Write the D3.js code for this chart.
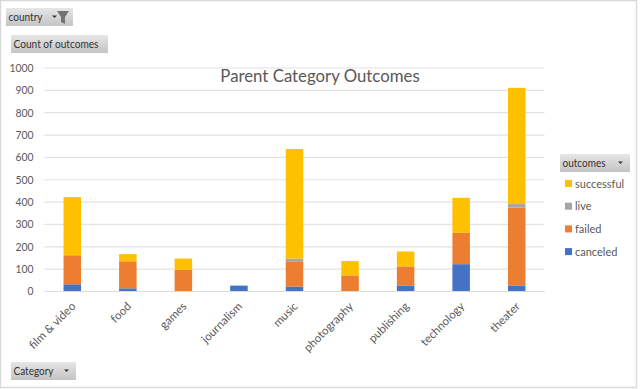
<!DOCTYPE html>
<html>
<head>
<meta charset="utf-8">
<script src="https://cdn.jsdelivr.net/npm/d3@7"></script>
<style>
html, body { margin: 0; padding: 0; background: #fff; }
svg { display: block; font-family: Lato, "Open Sans", sans-serif; }
</style>
</head>
<body>
<div id="chart-area"></div>
<script>
// values
var categories = ["film & video", "food", "games", "journalism", "music", "photography", "publishing", "technology", "theater"];
var outcomes = ["canceled", "failed", "live", "successful"];
var canceled = [30, 12, 0, 24, 20, 0, 25, 120, 25];
var failed = [130, 121, 95, 0, 113, 70, 85, 140, 348];
var live = [0, 0, 0, 0, 12, 0, 0, 0, 16];
var successful = [260, 32, 50, 0, 490, 64, 67, 157, 520];
var yTicks = [0, 100, 200, 300, 400, 500, 600, 700, 800, 900, 1000];
var colors = ["#4472c4", "#ed7d31", "#a5a5a5", "#ffc000"];
var legendOrder = ["successful", "live", "failed", "canceled"];

var width = 640;
var height = 389;

var rows = categories.map(function(c, i) {
	return { category: c, canceled: canceled[i], failed: failed[i], live: live[i], successful: successful[i] };
});

var svg = d3.select("#chart-area")
	.append("svg")
	.attr("width", width)
	.attr("height", height);

var defs = svg.append("defs");
var grad = defs.append("linearGradient")
	.attr("id", "btn")
	.attr("x1", 0).attr("x2", 0).attr("y1", 0).attr("y2", 1);
grad.append("stop").attr("offset", "0%").attr("stop-color", "#e6e6e6");
grad.append("stop").attr("offset", "100%").attr("stop-color", "#c4c4c4");

// outer frame of the chart
svg.append("rect")
	.attr("x", 0.5)
	.attr("y", 0.5)
	.attr("width", 636)
	.attr("height", 387)
	.attr("fill", "#fff")
	.attr("stroke", "#d9d9d9")
	.attr("stroke-width", 1.5);

var x = d3.scaleBand()
	.domain(categories)
	.range([44.5, 544.5]);

var y = d3.scaleLinear()
	.domain([0, 1000])
	.range([291, 67.5]);

var color = d3.scaleOrdinal()
	.domain(outcomes)
	.range(colors);

var leftAxis = d3.axisLeft(y)
	.tickValues(yTicks)
	.tickFormat(d3.format("d"))
	.tickSize(-500)
	.tickPadding(11);

var yAxis = svg.append("g")
	.attr("transform", "translate(44.5,0)")
	.call(leftAxis);
yAxis.select(".domain").remove();
yAxis.selectAll("line").attr("stroke", "#e2e2e2").attr("stroke-width", 1.2);
// squeeze the digits, Lato runs wider than the original font
yAxis.selectAll("text")
	.attr("fill", "#595959")
	.attr("font-size", "12px")
	.attr("font-family", "Lato, sans-serif")
	.attr("textLength", function(d) { return String(d).length * 6; })
	.attr("lengthAdjust", "spacingAndGlyphs");

var bottomAxis = d3.axisBottom(x).tickSize(0);
var xAxis = svg.append("g")
	.attr("transform", "translate(0,291)")
	.call(bottomAxis);
xAxis.select(".domain").attr("stroke", "#dcdcdc").attr("stroke-width", 1.2);
xAxis.selectAll("text")
	.attr("fill", "#595959")
	.attr("font-size", "11.5px")
	.attr("font-family", "Lato, sans-serif")
	.attr("text-anchor", "end")
	.attr("x", 0)
	.attr("y", 0)
	.attr("dy", 0)
	.attr("transform", "translate(4,16) rotate(-45)");

var stacked = d3.stack().keys(outcomes)(rows);
var barWidth = 17.5;

svg.selectAll("g.series")
	.data(stacked)
	.enter().append("g")
	.attr("class", "series")
	.attr("fill", function(d) { return color(d.key); })
	.selectAll("rect")
	.data(function(d) { return d; })
	.enter().append("rect")
	.attr("x", function(d) { return x(d.data.category) + (x.bandwidth() - barWidth) / 2; })
	.attr("y", function(d) { return y(d[1]); })
	.attr("width", barWidth)
	.attr("height", function(d) { return y(d[0]) - y(d[1]); });

svg.append("text")
	.attr("x", 320)
	.attr("y", 82)
	.attr("text-anchor", "middle")
	.attr("fill", "#595959")
	.attr("font-size", "16.8px")
	.text("Parent Category Outcomes");

function button(px, py, w, h, label, labelW, arrowX) {
	var b = svg.append("g").attr("transform", "translate(" + px + "," + py + ")");
	b.append("rect")
		.attr("width", w)
		.attr("height", h)
		.attr("fill", "url(#btn)");
	b.append("text")
		.attr("x", 2.5)
		.attr("y", h / 2 + 4)
		.attr("fill", "#333")
		.attr("font-size", "11.5px")
		.attr("textLength", labelW)
		.attr("lengthAdjust", "spacingAndGlyphs")
		.text(label);
	if (arrowX) {
		b.append("path")
			.attr("d", d3.line()([[arrowX, h / 2 - 1.5], [arrowX + 5, h / 2 - 1.5], [arrowX + 2.5, h / 2 + 1]]) + "Z")
			.attr("fill", "#333");
	}
	return b;
}

var countryBtn = button(6, 8, 67, 18, "country", 34, 46);
countryBtn.append("path")
	.attr("d", "M51,3 L63,3 L59,9 L59,16 L55,14 L55,9 Z")
	.attr("fill", "#737373");

button(11, 35, 97, 18, "Count of outcomes", 85);
button(11, 362, 65, 18, "Category", 40, 53);
button(560, 154, 70, 18, "outcomes", 43, 58);

var legend = svg.append("g").attr("transform", "translate(565,183)");
legendOrder.forEach(function(name, i) {
	var row = legend.append("g")
		.attr("transform", "translate(0," + (i * 22.7) + ")");
	row.append("rect")
		.attr("x", 0)
		.attr("y", -3)
		.attr("width", 7)
		.attr("height", 7)
		.attr("fill", color(name));
	row.append("text")
		.attr("x", 10)
		.attr("y", 4.5)
		.attr("fill", "#595959")
		.attr("font-size", "11px")
		.text(name);
});
</script>
</body>
</html>
